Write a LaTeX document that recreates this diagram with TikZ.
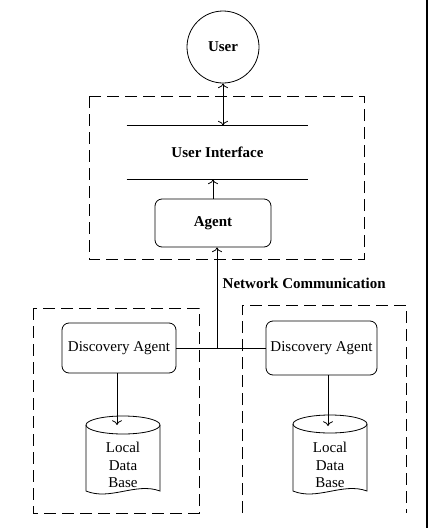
\documentclass[tikz,border=0pt]{standalone}
\usepackage{fontspec}
\setmainfont{Liberation Serif}
\usetikzlibrary{positioning,arrows.meta}

\begin{document}
\begin{tikzpicture}[x=1pt,y=-1pt,line width=0.8pt,>={To[scale=1.4]},
						zone/.style={dash pattern=on 12pt off 6pt},
						agentbox/.style={draw,rounded corners=7pt,font=\fontsize{15}{18}\selectfont},
						label text/.style={font=\fontsize{15}{18}\selectfont\bfseries},
						db text/.style={align=center,font=\fontsize{15}{17.5}\selectfont}]
		\useasboundingbox (0,0) rectangle (430,528);

		% user side
		\node[draw,circle,minimum size=72pt,label text]					(user)	at (223,47)		{User};
		\node[minimum width=181pt,minimum height=53pt,label text]			(ui)	at (217.5,152.5)	{User Interface};
		\node[agentbox,minimum width=116pt,minimum height=48pt,label text]	(agent)	at (213,223)	{Agent};
		\draw (ui.north west) -- (ui.north east);
		\draw (ui.south west) -- (ui.south east);
		\draw[zone] (89,96) rectangle (364,259);

		% discovery side
		\node[agentbox,minimum width=114pt,minimum height=50pt]		(da1)	at (119,348)	{Discovery Agent};
		\node[agentbox,minimum width=111pt,minimum height=54pt]		(da2)	at (321.5,348)	{Discovery Agent};
		\coordinate (hub) at (217,348);
		\node[label text,anchor=west]									(net)	at (219,283)	{Network Communication};
		\draw[zone] (33,308) rectangle (199,513);
		\draw[zone] (242,513) -- (242,305) -- (406,305) -- (406,513);

		% data bases
		\draw (86,425) -- (86,491) .. controls (110,501) and (136,482) .. (160,491) -- (160,425);
		\draw (123,425) ellipse (37pt and 9pt);
		\coordinate (db1top) at (117,425);
		\node[db text]	(db1)	at (123,465)	{Local\\Data\\Base};
		\draw (293,424) -- (293,491) .. controls (317,501) and (343,482) .. (367,491) -- (367,424);
		\draw (330,424) ellipse (37pt and 9pt);
		\coordinate (db2top) at (328,426);
		\node[db text]	(db2)	at (330,465)	{Local\\Data\\Base};

		\draw[<->] (user.south) -- (user.south |- ui.north);
		\draw[->] (agent.north) -- (agent.north |- ui.south);
		\draw[->] (hub) -- (hub |- agent.south);
		\draw (da1.east) -- (da2.west);
		\draw[->] (db1top |- da1.south) -- (db1top);
		\draw[->] (db2top |- da2.south) -- (db2top);

		% frame edge
		\draw[line width=2.5pt] (427,0) -- (427,528);
	\end{tikzpicture}
\end{document}
